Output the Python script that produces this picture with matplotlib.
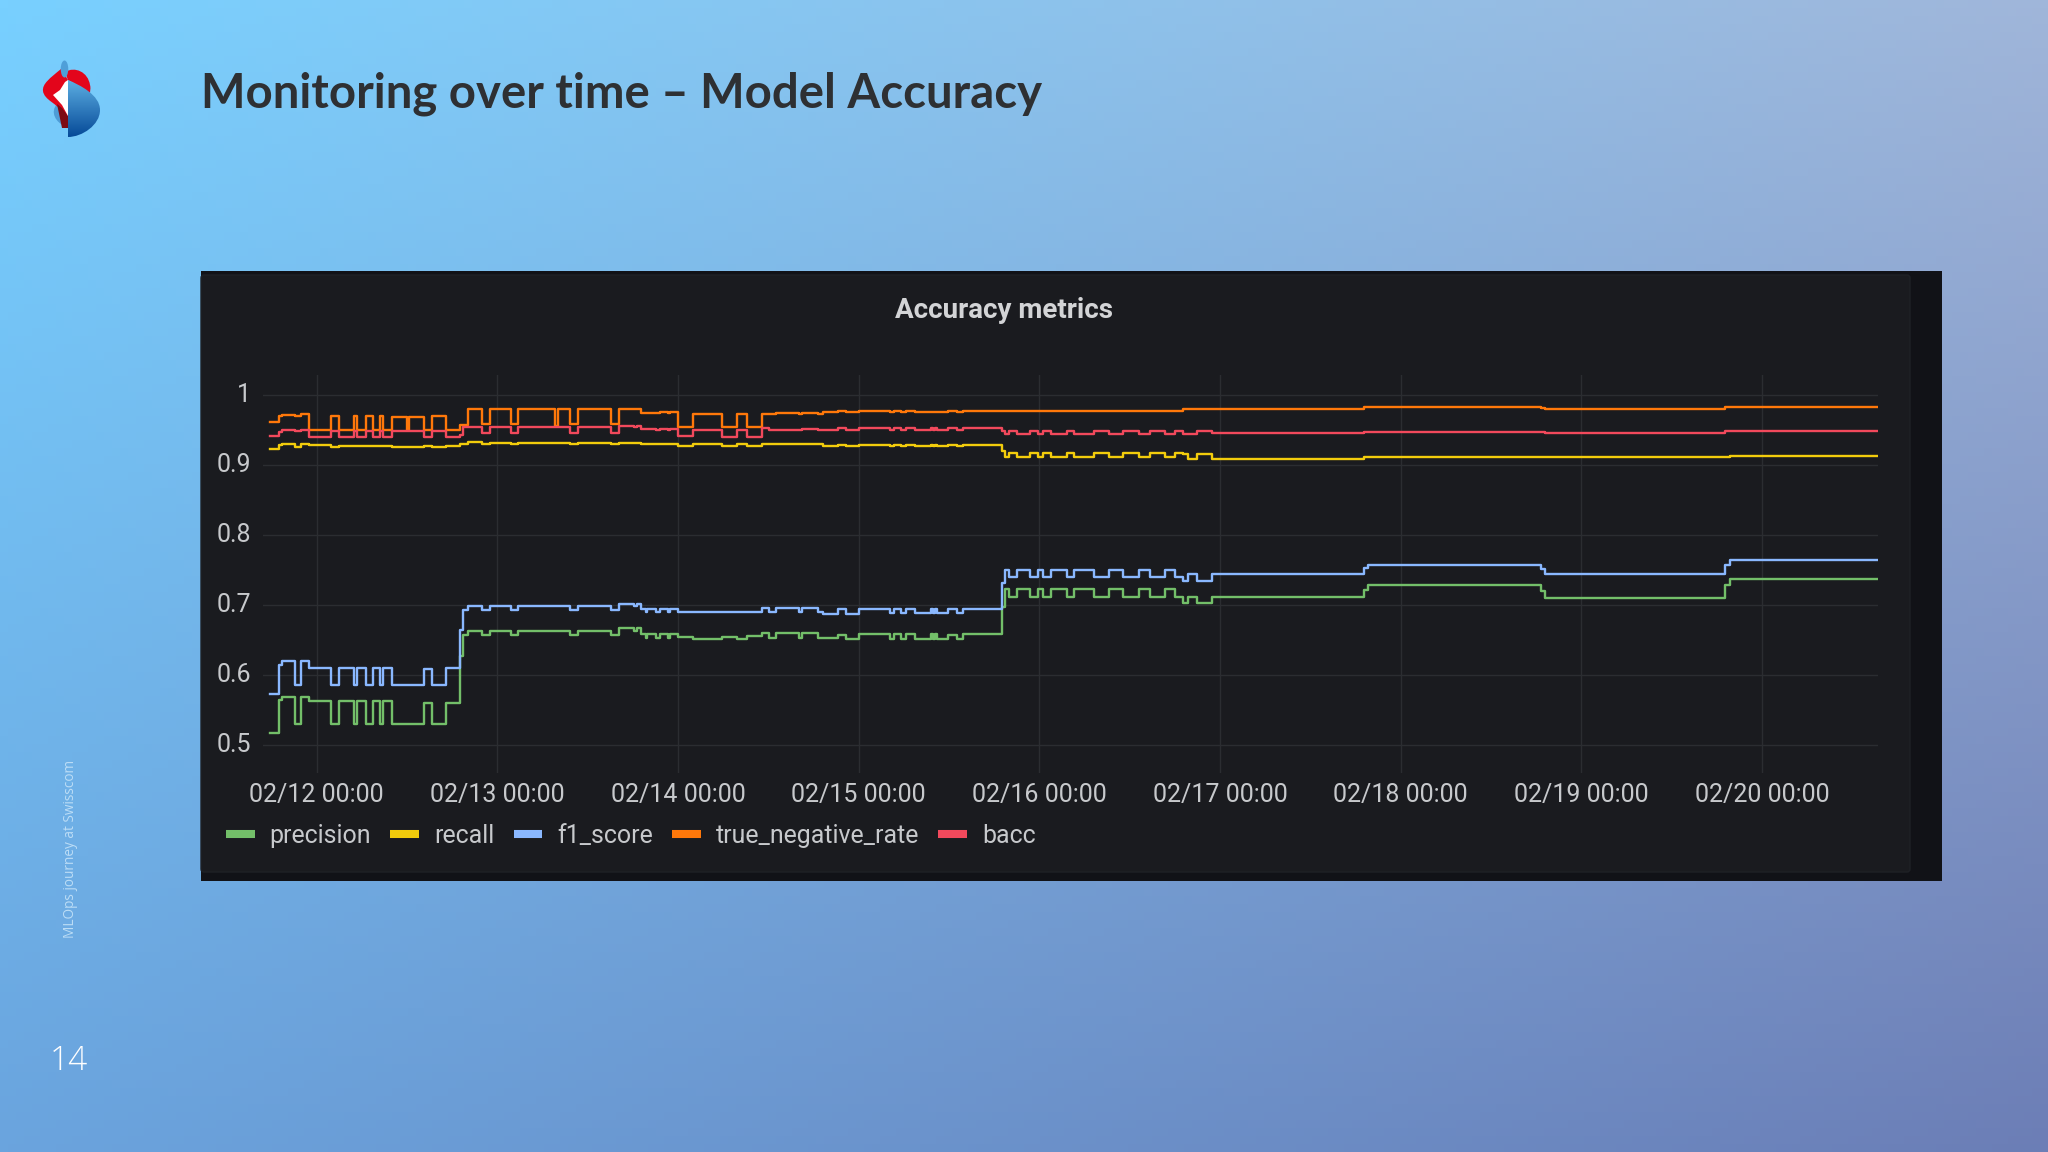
import numpy as np
import pandas as pd
import matplotlib
matplotlib.use("Agg")
import matplotlib.pyplot as plt
import matplotlib.dates as mdates
from matplotlib.lines import Line2D
from matplotlib.patches import FancyBboxPatch, PathPatch, Rectangle, Ellipse
from matplotlib.path import Path
from matplotlib.transforms import ScaledTranslation

plt.rcParams['font.family'] = ['Roboto', 'DejaVu Sans']

# hours since 02/12 00:00 at which each step starts
hours = [
    -6.2, -5.0, -4.66, -2.88, -2.04, -1.07, 1.94, 2.96, 4.96, 5.4,
    6.51, 7.48, 8.46, 8.77, 10.01, 12.05, 12.27, 14.26, 15.37, 17.14,
    19.04, 19.49, 20.11, 21.92, 22.99, 25.78, 26.8, 31.71, 32.02, 33.62,
    34.68, 39.07, 40.13, 42.17, 42.48, 43.14, 43.72, 43.85, 45.05, 45.58,
    46.6, 46.91, 47.97, 50.0, 53.84, 55.78, 57.16, 59.15, 60.1, 60.95,
    64.04, 64.51, 66.55, 67.22, 69.26, 70.35, 72.06, 76.14, 76.62, 77.57,
    78.28, 79.46, 81.6, 81.84, 82.17, 82.41, 83.83, 85.06, 85.87, 91.04,
    91.38, 91.9, 92.99, 94.74, 95.84, 96.45, 97.5, 99.63, 100.58, 103.29,
    105.23, 107.13, 109.27, 110.64, 112.69, 114.01, 115.11, 115.77, 116.96, 118.95,
    139.1, 139.7, 162.6, 163.2, 187.1, 187.7, 207.4,
]
precision = [
    .518, .565, .5695, .531, .5695, .563, .531, .563, .531, .563,
    .531, .563, .531, .563, .531, .531, .531, .561, .531, .561,
    .627, .658, .663, .658, .663, .658, .663, .663, .663, .658,
    .663, .658, .667, .663, .667, .659, .653, .659, .653, .659,
    .653, .659, .655, .652, .655, .652, .6557, .66, .653, .66,
    .653, .66, .653, .653, .6576, .652, .6586, .652, .6586, .652,
    .6586, .652, .6586, .652, .6586, .652, .658, .652, .6586, .698,
    .7233, .7114, .7233, .7114, .7233, .7114, .7233, .7114, .7233, .7114,
    .7233, .7114, .7233, .7114, .7233, .7114, .7038, .7114, .7038, .7114,
    .7224, .7286, .72, .71, .7286, .7371, .7371,
]
recall = [
    .9226, .929, .93, .9264, .931, .9288, .9264, .928, .927, .928,
    .927, .928, .9275, .928, .9264, .9264, .9264, .928, .9264, .928,
    .931, .931, .933, .9307, .9325, .9307, .9325, .9325, .9325, .9307,
    .9325, .9307, .9325, .9325, .9325, .9307, .9307, .9307, .9307, .9307,
    .9307, .9307, .928, .9307, .928, .931, .928, .931, .931, .931,
    .931, .931, .931, .928, .9297, .928, .929, .928, .9297, .928,
    .9297, .928, .9297, .928, .9297, .928, .9297, .928, .9297, .921,
    .9123, .918, .9123, .918, .9123, .918, .9123, .918, .9123, .918,
    .9123, .918, .9123, .918, .9123, .918, .9156, .9094, .9156, .9094,
    .9114, .9114, .9114, .9114, .912, .9137, .9137,
]
f1_score = [
    .573, .615, .62, .586, .62, .611, .586, .611, .586, .611,
    .586, .611, .586, .611, .586, .586, .586, .609, .586, .61,
    .665, .693, .699, .693, .699, .693, .699, .699, .699, .693,
    .699, .693, .702, .699, .702, .695, .69, .695, .69, .695,
    .69, .695, .69, .69, .69, .69, .69, .6957, .6905, .6957,
    .691, .6957, .691, .688, .694, .688, .694, .6885, .694, .6885,
    .694, .6885, .694, .6885, .694, .6885, .694, .6885, .694, .7314,
    .7505, .7405, .7505, .7405, .7505, .7405, .7505, .7405, .7505, .7405,
    .7505, .7405, .7505, .7405, .7505, .7405, .734, .744, .734, .744,
    .7533, .758, .752, .7452, .757, .7643, .7643,
]
true_negative_rate = [
    .962, .97, .972, .97, .9726, .951, .97, .951, .97, .951,
    .97, .951, .97, .951, .969, .951, .969, .951, .97, .951,
    .957, .957, .98, .9585, .98, .9585, .98, .956, .98, .9585,
    .98, .9585, .98, .98, .98, .9745, .9745, .9745, .9745, .9755,
    .9745, .9755, .954, .9726, .954, .9726, .954, .9736, .9726, .9745,
    .9735, .9745, .9735, .9755, .977, .9755, .977, .9755, .977, .9755,
    .977, .9755, .9755, .9755, .9765, .9755, .977, .9755, .977, .977,
    .978, .978, .978, .978, .978, .978, .978, .978, .978, .978,
    .978, .978, .978, .978, .978, .978, .9807, .9807, .9807, .981,
    .983, .983, .982, .98, .983, .983, .983,
]
bacc = [
    .942, .948, .951, .9486, .951, .94, .949, .94, .949, .94,
    .949, .94, .949, .94, .9486, .9486, .9486, .94, .9486, .94,
    .943, .9547, .9547, .946, .9547, .946, .9547, .9547, .9547, .946,
    .9547, .946, .9566, .9547, .9566, .952, .952, .952, .951, .952,
    .951, .952, .9415, .9505, .941, .95, .941, .9533, .951, .951,
    .95, .9515, .951, .951, .9533, .951, .9537, .951, .9533, .951,
    .9533, .951, .9533, .951, .9533, .951, .9533, .951, .9533, .949,
    .9453, .9486, .9453, .9486, .9453, .9486, .9453, .9486, .9453, .9486,
    .9453, .9486, .9453, .9486, .9453, .9486, .9453, .9453, .9486, .9455,
    .9474, .9474, .9474, .9455, .9483, .9483, .9483,
]

series_names = ['precision', 'recall', 'f1_score', 'true_negative_rate', 'bacc']
series_values = [precision, recall, f1_score, true_negative_rate, bacc]
series_colors = ['#73BF69', '#F2CC0C', '#8AB8FF', '#FF780A', '#F2495C']
y_ticks = [0.5, 0.6, 0.7, 0.8, 0.9, 1.0]
y_labels = ['0.5', '0.6', '0.7', '0.8', '0.9', '1']
x_tick_days = pd.date_range('2021-02-12', '2021-02-20', freq='D')

W, H = 2048, 1152
fig = plt.figure(figsize=(W / 100, H / 100), dpi=100)

# slide background, pixel coordinates
bg = fig.add_axes([0, 0, 1, 1])
bg.set_xlim(0, W)
bg.set_ylim(H, 0)
bg.axis('off')
tl, tr = np.array([0x78, 0xD0, 0xFF]), np.array([0xA0, 0xB6, 0xDA])
bl, br = np.array([0x6A, 0xA4, 0xDE]), np.array([0x6C, 0x7E, 0xB6])
u, v = np.meshgrid(np.linspace(0, 1, 256), np.linspace(0, 1, 144))
u, v = u[..., None], v[..., None]
grad = (tl * (1 - u) + tr * u) * (1 - v) + (bl * (1 - u) + br * u) * v
bg.imshow(grad / 255, extent=[0, W, H, 0], aspect='auto', zorder=0)

# logo
M, L, C, Z = Path.MOVETO, Path.LINETO, Path.CURVE4, Path.CLOSEPOLY
def blob(pts, codes, color, z=2):
    p = PathPatch(Path(pts, codes), fc=color, ec='none', zorder=z)
    bg.add_patch(p)
    return p

bg.add_patch(Ellipse((64.5, 69), 7.5, 17, fc='#4F9FD8', ec='none', zorder=3))
blob([(57, 104), (50, 112), (55, 122), (66, 127), (57, 104)], [M, C, C, C, L], '#4E9CD6')
blob([(61, 69), (50, 78), (42, 84), (43, 91), (44, 100), (58, 104), (62, 112), (68, 128), (68, 80), (61, 69)],
     [M, C, C, C, C, C, C, L, L, L], '#E3051B')
blob([(65, 72), (75, 66), (88, 72), (90, 85), (91, 88), (90, 91), (90, 93), (68, 80), (65, 72)],
     [M, C, C, C, C, C, C, L, L], '#E3051B')
blob([(57, 104), (62, 108), (68, 116), (68, 128), (62, 128), (57, 104)], [M, L, L, L, L, L], '#7D0A14', 3)
blob([(68, 80), (68, 116), (62, 105), (53, 95), (60, 90), (65, 82), (68, 80)], [M, L, L, L, L, L, L], 'white', 3)
drop = blob([(68, 80), (80, 85), (100, 95), (100, 110), (100, 125), (82, 137), (68, 137), (68, 80)],
            [M, C, C, C, C, C, C, L], 'none', 3)
fade = np.linspace(0, 1, 64)[:, None, None] * np.array([0x06, 0x4A, 0x98]) + \
    np.linspace(1, 0, 64)[:, None, None] * np.array([0x5C, 0xAE, 0xE2])
im = bg.imshow(fade / 255, extent=[66, 102, 137, 80], aspect='auto', zorder=3)
im.set_clip_path(drop)
bg.set_xlim(0, W)
bg.set_ylim(H, 0)

# slide texts
bg.text(201, 108, 'Monitoring over time – Model Accuracy', family='Lato', weight='bold',
        fontsize=34, color='#2E3033', va='baseline', ha='left')
bg.text(71, 849, 'MLOps journey at Swisscom', family='Open Sans', fontsize=9.8, color='#BCDDF6',
        rotation=90, va='center', ha='center')
bg.text(68.5, 1061, '14', family='Open Sans', fontsize=24, weight='light', color='white', va='center', ha='center')

# grafana panel
bg.add_patch(Rectangle((201, 271), 1741, 610, fc='#111217', ec='none', zorder=1))
bg.add_patch(FancyBboxPatch((201, 275), 1709, 597, boxstyle='round,pad=0,rounding_size=3',
                            fc='#1A1B1F', ec='#1F2126', lw=1, zorder=1))
bg.text(1004, 311, 'Accuracy metrics', fontsize=20, weight='bold', color='#D3D4D6', ha='center', va='center')

# plot area
left, right, top, bottom = 263, 1878, 375, 773
ax = fig.add_axes([left / W, 1 - bottom / H, (right - left) / W, (bottom - top) / H])
ax.patch.set_alpha(0)
for s in ax.spines.values():
    s.set_visible(False)

times = pd.Timestamp('2021-02-12') + pd.to_timedelta(hours, unit='h')
for name, vals, col in zip(series_names, series_values, series_colors):
    ax.plot(times, vals, drawstyle='steps-post', color=col, lw=1.7, label=name, solid_joinstyle='round')

ax.set_xlim(pd.Timestamp('2021-02-12') + pd.Timedelta(hours=-7.14), times[-1])
ax.set_ylim(0.4604, 1.029)
ax.set_yticks(y_ticks)
ax.set_yticklabels(y_labels)
ax.set_xticks(x_tick_days)
ax.xaxis.set_major_formatter(mdates.DateFormatter('%m/%d %H:%M'))
ax.grid(True, color='#2B2D31', lw=1)
ax.set_axisbelow(True)
ax.tick_params(axis='both', length=0, labelsize=18, labelcolor='#C7C9CC')
ax.tick_params(axis='y', pad=8.5)
ax.tick_params(axis='x', pad=7.5)

# y labels sit a little above their grid lines in the original
nudge = ScaledTranslation(0, 3 / 100, fig.dpi_scale_trans)
for lab in ax.get_yticklabels():
    lab.set_transform(lab.get_transform() + nudge)

# legend
handles = [Line2D([], [], color=c, lw=5.8, solid_capstyle='butt') for c in series_colors]
leg = ax.legend(handles, series_names, ncols=5, loc='center left', bbox_to_anchor=(226 / W, 1 - 836 / H),
                bbox_transform=fig.transFigure, frameon=False, fontsize=17.9, labelcolor='#C7C9CC',
                handlelength=1.15, handletextpad=0.6, columnspacing=0.78, borderpad=0, borderaxespad=0)

fig.savefig('out.png', dpi=100)
